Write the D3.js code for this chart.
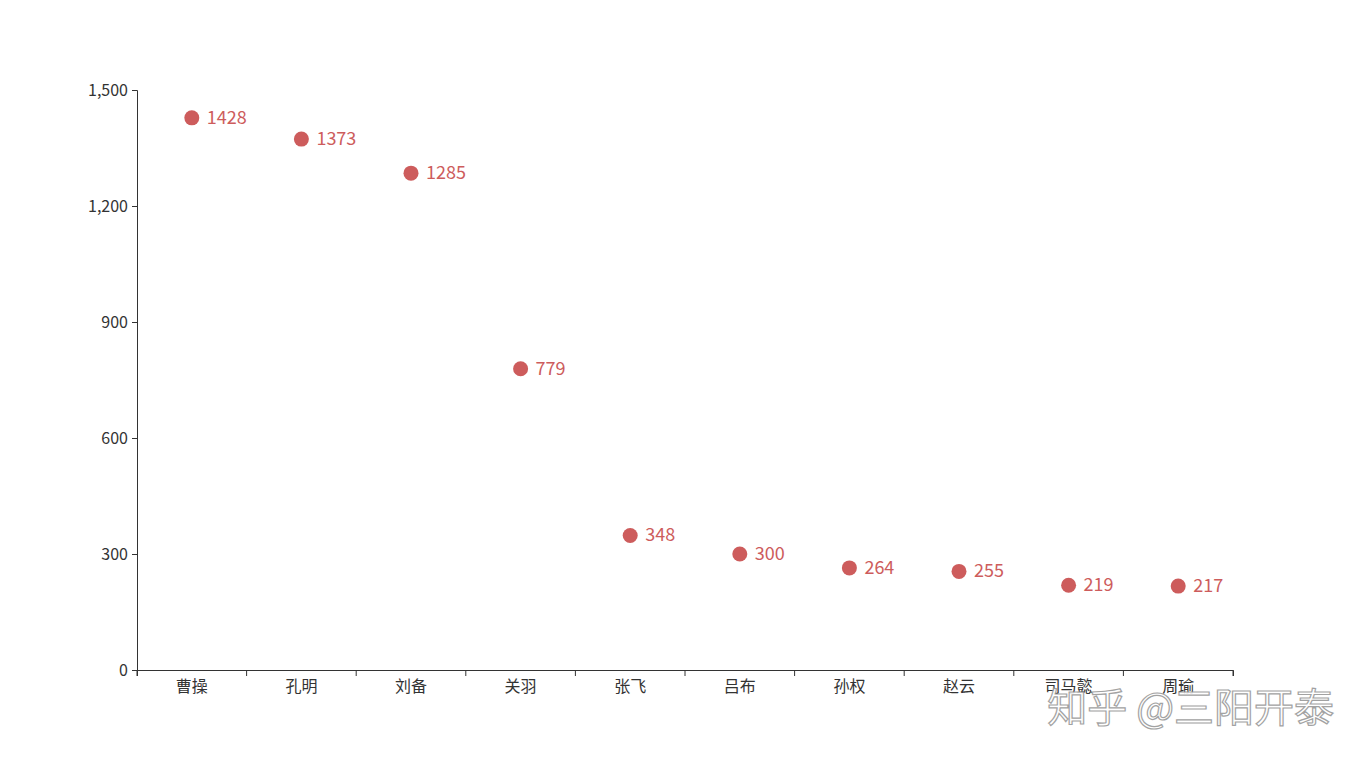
<!DOCTYPE html>
<html><head><meta charset="utf-8">
<script src="https://cdn.jsdelivr.net/npm/d3@7/dist/d3.min.js"></script>
<style>body{margin:0;background:#fff}</style></head>
<body><svg id="c" width="1369" height="761"></svg>
<script>
const categories=["曹操","孔明","刘备","关羽","张飞","吕布","孙权","赵云","司马懿","周瑜"];
const values=[1428,1373,1285,779,348,300,264,255,219,217];
const yTicks=[0,300,600,900,1200,1500];
const svg=d3.select("#c");
const font="'Noto Sans CJK SC','Microsoft YaHei',sans-serif";
const x=d3.scaleBand().domain(categories).range([137,1233]);
const y=d3.scaleLinear().domain([0,1500]).range([670,90]);
const col="#cd5c5c";
const ya=svg.append("g").attr("transform","translate(137,0)").call(d3.axisLeft(y).tickValues(yTicks).tickFormat(d3.format(",")).tickSize(5));
const xa=svg.append("g").attr("transform","translate(0,670)").call(d3.axisBottom(x).tickSize(6).tickSizeOuter(6));
[ya,xa].forEach(a=>{a.selectAll("path,line").attr("stroke","#333");a.selectAll("text").attr("fill","#333").attr("font-size",16).attr("font-family",font);});
ya.selectAll(".tick text").attr("x",-9);
xa.selectAll(".tick line").remove();
xa.selectAll(".b").data(d3.range(categories.length+1)).enter().append("line")
 .attr("x1",i=>137+i*x.step()).attr("x2",i=>137+i*x.step()).attr("y1",0).attr("y2",6).attr("stroke","#333");
xa.selectAll(".tick text").attr("y",11);
const cx=d=>x(d)+x.bandwidth()/2;
svg.selectAll(".p").data(values).enter().append("circle")
 .attr("cx",(d,i)=>cx(categories[i])).attr("cy",d=>y(d)).attr("r",7.5).attr("fill",col);
svg.selectAll(".l").data(values).enter().append("text")
 .attr("x",(d,i)=>cx(categories[i])+15).attr("y",d=>y(d)+6).text(d=>d)
 .attr("fill",col).attr("font-size",18).attr("font-family",font);
svg.append("text").attr("x",1334).attr("y",722).attr("text-anchor","end")
 .attr("font-size",40).attr("font-family",font).attr("fill","#fff").attr("stroke","#999").attr("stroke-width",1.2)
 .attr("opacity",0.9).text("知乎 @三阳开泰");
</script></body></html>
